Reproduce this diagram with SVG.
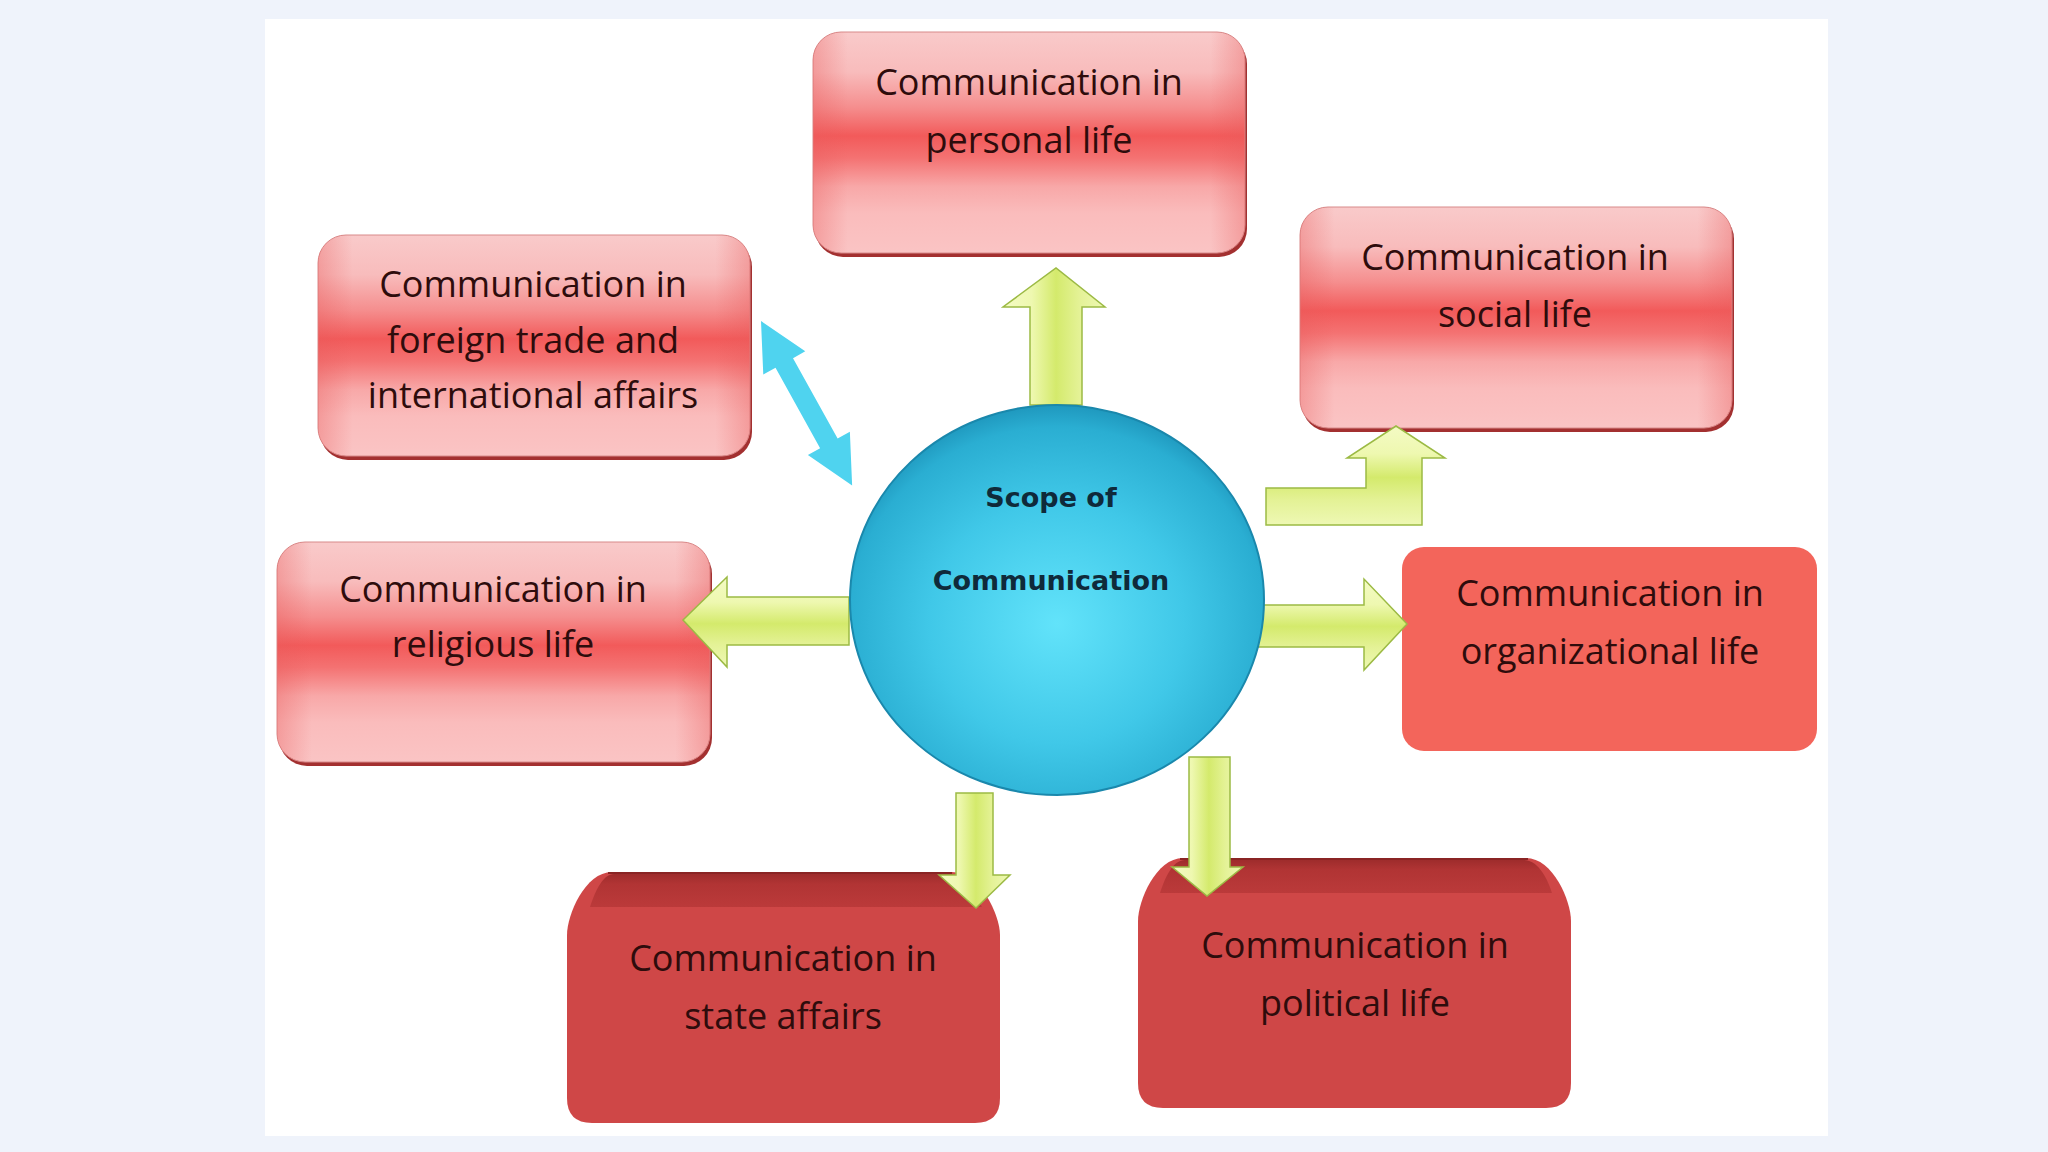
<svg xmlns="http://www.w3.org/2000/svg" width="2048" height="1152" viewBox="0 0 2048 1152">
  <defs>
    <linearGradient id="pinkV" x1="0" y1="0" x2="0" y2="1">
      <stop offset="0" stop-color="#f9caca"/>
      <stop offset="0.18" stop-color="#f8bcbc"/>
      <stop offset="0.34" stop-color="#f58e8e"/>
      <stop offset="0.47" stop-color="#f25a5a"/>
      <stop offset="0.57" stop-color="#f47272"/>
      <stop offset="0.7" stop-color="#f8a8a8"/>
      <stop offset="0.82" stop-color="#fabcbc"/>
      <stop offset="1" stop-color="#fac4c4"/>
    </linearGradient>
    <linearGradient id="pinkEdge" x1="0" y1="0" x2="1" y2="0">
      <stop offset="0" stop-color="#e85a5a" stop-opacity="0.35"/>
      <stop offset="0.08" stop-color="#e85a5a" stop-opacity="0"/>
      <stop offset="0.92" stop-color="#e85a5a" stop-opacity="0"/>
      <stop offset="1" stop-color="#e85a5a" stop-opacity="0.35"/>
    </linearGradient>
    <linearGradient id="bandG" x1="0" y1="0" x2="0" y2="1">
      <stop offset="0" stop-color="#9e2c2c"/>
      <stop offset="0.3" stop-color="#b13434"/>
      <stop offset="1" stop-color="#bb3a3a"/>
    </linearGradient>
    <linearGradient id="grnV" x1="0" y1="0" x2="1" y2="0">
      <stop offset="0" stop-color="#f4fbc4"/>
      <stop offset="0.28" stop-color="#eef8b0"/>
      <stop offset="0.52" stop-color="#d4ea6c"/>
      <stop offset="0.75" stop-color="#e4f296"/>
      <stop offset="1" stop-color="#eef8b4"/>
    </linearGradient>
    <linearGradient id="grnH" x1="0" y1="0" x2="0" y2="1">
      <stop offset="0" stop-color="#f4fbc4"/>
      <stop offset="0.28" stop-color="#eef8b0"/>
      <stop offset="0.52" stop-color="#d4ea6c"/>
      <stop offset="0.75" stop-color="#e4f296"/>
      <stop offset="1" stop-color="#eef8b4"/>
    </linearGradient>
    <radialGradient id="ball" cx="0.5" cy="0.56" r="0.56">
      <stop offset="0" stop-color="#62e3fa"/>
      <stop offset="0.55" stop-color="#40c8e8"/>
      <stop offset="0.9" stop-color="#2aaed2"/>
      <stop offset="1" stop-color="#1f98be"/>
    </radialGradient>
    <style>
      .lbl { font-family: "Open Sans", "Liberation Sans", sans-serif; font-size: 36px; fill: #2e0c0c; text-anchor: middle; }
      .ctr { font-family: "DejaVu Sans", "Liberation Sans", sans-serif; font-size: 27px; font-weight: bold; fill: #0f2a3a; text-anchor: middle; }
      .shadow { fill: #a33030; }
      .pink { fill: url(#pinkV); stroke: #d88a8a; stroke-width: 1; }
      .edge { fill: url(#pinkEdge); }
      .dark { fill: #cf4747; }
      .band { fill: url(#bandG); }
      .arrV { fill: url(#grnV); stroke: #9cba44; stroke-width: 1.5; }
      .arrH { fill: url(#grnH); stroke: #9cba44; stroke-width: 1.5; }
      .cyan { fill: #4fd3ef; }
    </style>
  </defs>

  <rect x="0" y="0" width="2048" height="1152" fill="#eff3fb"/>
  <rect x="265" y="19" width="1563" height="1117" fill="#ffffff"/>

  <g id="node-personal">
    <rect class="shadow" x="815" y="36" width="432" height="221" rx="28"/>
    <rect class="pink" x="813" y="32" width="432" height="221" rx="28"/>
    <rect class="edge" x="813" y="32" width="432" height="221" rx="28"/>
    <text class="lbl" x="1029" y="95">Communication in</text>
    <text class="lbl" x="1029" y="153">personal life</text>
  </g>

  <g id="node-social">
    <rect class="shadow" x="1302" y="211" width="432" height="221" rx="28"/>
    <rect class="pink" x="1300" y="207" width="432" height="221" rx="28"/>
    <rect class="edge" x="1300" y="207" width="432" height="221" rx="28"/>
    <text class="lbl" x="1515" y="270">Communication in</text>
    <text class="lbl" x="1515" y="327">social life</text>
  </g>

  <g id="node-foreign">
    <rect class="shadow" x="320" y="239" width="432" height="221" rx="28"/>
    <rect class="pink" x="318" y="235" width="432" height="221" rx="28"/>
    <rect class="edge" x="318" y="235" width="432" height="221" rx="28"/>
    <text class="lbl" x="533" y="297">Communication in</text>
    <text class="lbl" x="533" y="353">foreign trade and</text>
    <text class="lbl" x="533" y="408">international affairs</text>
  </g>

  <g id="node-religious">
    <rect class="shadow" x="279" y="546" width="433" height="220" rx="28"/>
    <rect class="pink" x="277" y="542" width="433" height="220" rx="28"/>
    <rect class="edge" x="277" y="542" width="433" height="220" rx="28"/>
    <text class="lbl" x="493" y="602">Communication in</text>
    <text class="lbl" x="493" y="657">religious life</text>
  </g>

  <g id="node-organizational">
    <rect x="1402" y="547" width="415" height="204" rx="22" fill="#f3655b"/>
    <text class="lbl" x="1610" y="606">Communication in</text>
    <text class="lbl" x="1610" y="664">organizational life</text>
  </g>

  <g id="node-state">
    <path class="dark" d="M567,935 C567,915 585,872 612,872 L952,872 C980,872 1000,915 1000,935 L1000,1098 Q1000,1123 975,1123 L592,1123 Q567,1123 567,1098 Z"/>
    <path class="band" d="M590,907 C596,888 604,874 614,874 L950,874 C962,874 972,888 982,907 Z"/>
    <line x1="608" y1="873" x2="952" y2="873" stroke="#8a2424" stroke-width="2"/>
    <text class="lbl" x="783" y="971">Communication in</text>
    <text class="lbl" x="783" y="1029">state affairs</text>
  </g>

  <g id="node-political">
    <path class="dark" d="M1138,921 C1138,901 1156,858 1183,858 L1526,858 C1553,858 1571,901 1571,921 L1571,1083 Q1571,1108 1546,1108 L1163,1108 Q1138,1108 1138,1083 Z"/>
    <path class="band" d="M1160,893 C1166,874 1174,860 1185,860 L1524,860 C1536,860 1546,874 1552,893 Z"/>
    <line x1="1180" y1="859" x2="1528" y2="859" stroke="#8a2424" stroke-width="2"/>
    <text class="lbl" x="1355" y="958">Communication in</text>
    <text class="lbl" x="1355" y="1016">political life</text>
  </g>

  <g id="connectors">
    <path class="arrV" d="M1030,405 L1030,307 L1003,307 L1056,268 L1105,307 L1082,307 L1082,405 Z"/>
    <path class="arrH" d="M1266,488 L1366,488 L1366,458 L1347,458 L1396,426 L1445,458 L1422,458 L1422,525 L1266,525 Z"/>
    <path class="arrH" d="M1240,605 L1364,605 L1364,579 L1407,624 L1364,670 L1364,647 L1240,647 Z"/>
    <path class="arrH" d="M849,597 L727,597 L727,577 L683,620 L727,667 L727,645 L849,645 Z"/>
    <path class="arrV" d="M956,793 L993,793 L993,875 L1010,875 L976,908 L939,875 L956,875 Z"/>
    <path class="arrV" d="M1189,757 L1230,757 L1230,867 L1243,867 L1207,896 L1172,867 L1189,867 Z"/>
    <polygon class="cyan" transform="translate(761,321) rotate(61)" points="0,0 48,-24 48,-10 140,-10 140,-24 188,0 140,24 140,10 48,10 48,24"/>
  </g>

  <g id="node-center">
    <ellipse cx="1057" cy="600" rx="207" ry="195" fill="url(#ball)" stroke="#1a88ac" stroke-width="2"/>
    <text class="ctr" x="1051" y="507">Scope of</text>
    <text class="ctr" x="1051" y="590">Communication</text>
  </g>
</svg>
